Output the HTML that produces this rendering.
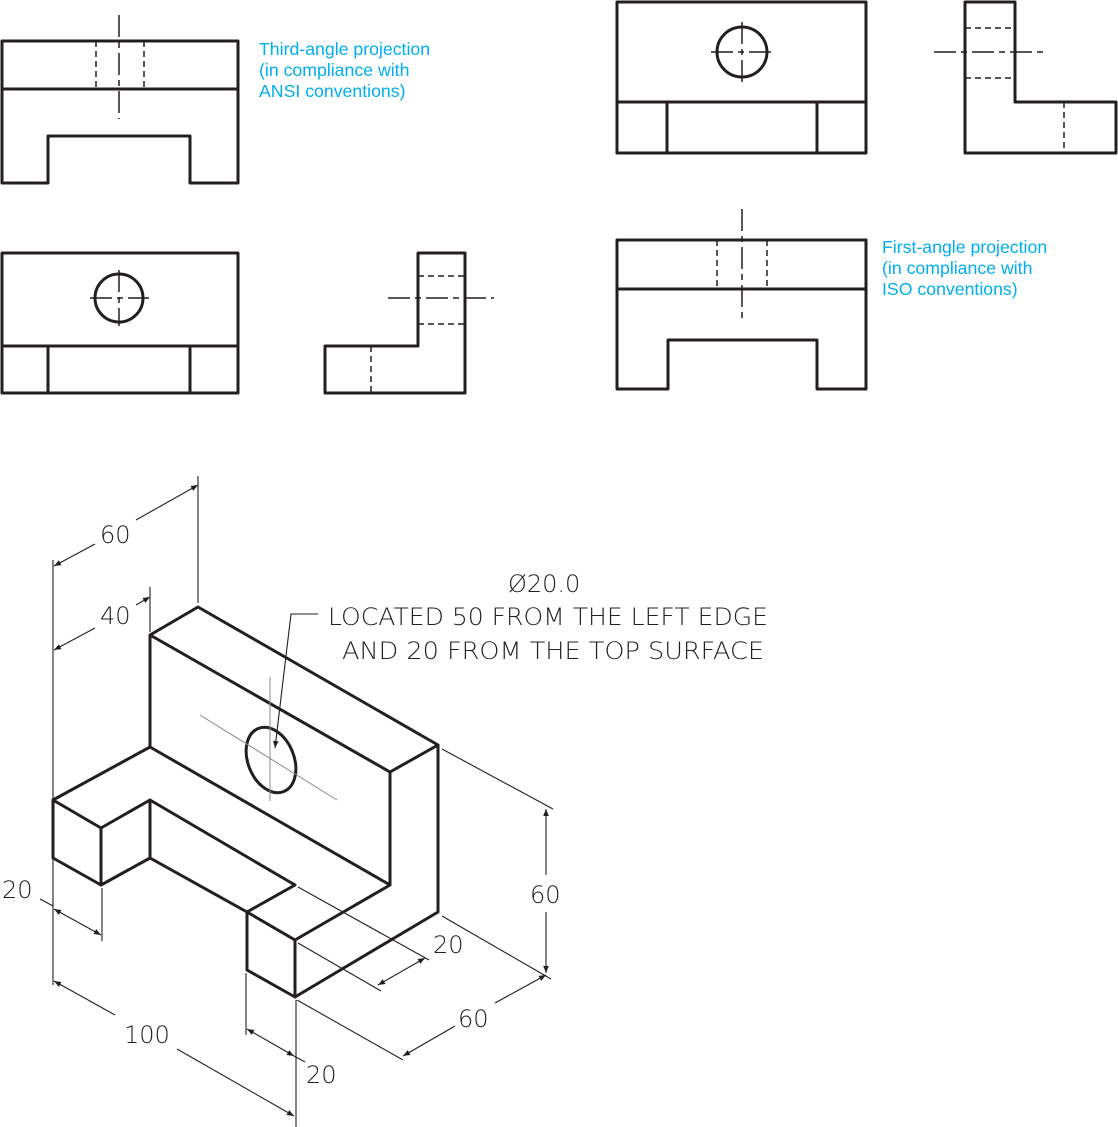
<!DOCTYPE html>
<html><head><meta charset="utf-8"><style>
html,body{margin:0;padding:0;background:#fff;}
svg{display:block;}
.o{fill:none;stroke:#231f20;stroke-width:3;stroke-linejoin:round;stroke-linecap:round;}
.h{fill:none;stroke:#231f20;stroke-width:1.5;stroke-dasharray:6,4;}
.c{fill:none;stroke:#231f20;stroke-width:1.3;}
.cd{fill:none;stroke:#231f20;stroke-width:1.5;stroke-dasharray:22,5,6,5;}
.d{fill:none;stroke:#231f20;stroke-width:1.1;}
.g{fill:none;stroke:#888;stroke-width:1;}
.b{font-family:"Liberation Sans",sans-serif;font-size:17.7px;fill:#00aeef;}
.t{font-family:"DejaVu Sans","Liberation Sans",sans-serif;font-size:24px;fill:#231f20;font-weight:200;}
</style></head><body>
<svg width="1118" height="1127" viewBox="0 0 1118 1127" xmlns="http://www.w3.org/2000/svg">
<defs><marker id="a" viewBox="0 0 10 10" refX="10" refY="5" markerWidth="9" markerHeight="7" orient="auto-start-reverse" markerUnits="userSpaceOnUse"><path d="M0,1 L10,5 L0,9 Z" fill="#231f20"/></marker></defs>

<path class="o" d="M2,41 H238 V183 H190 V136 H48 V183 H2 Z"/>
<line class="o" x1="2" y1="89" x2="238" y2="89"/>
<line class="h" x1="96" y1="41" x2="96" y2="89"/>
<line class="h" x1="144" y1="41" x2="144" y2="89"/>
<line class="cd" x1="119" y1="15" x2="119" y2="119" stroke-dasharray="28,6,6,6"/>
<text class="b" x="259" y="55">Third-angle projection</text>
<text class="b" x="259" y="76">(in compliance with</text>
<text class="b" x="259" y="97">ANSI conventions)</text>

<rect class="o" x="2" y="253" width="236" height="140"/>
<line class="o" x1="2" y1="346" x2="238" y2="346"/>
<line class="o" x1="48" y1="346" x2="48" y2="393"/>
<line class="o" x1="190" y1="346" x2="190" y2="393"/>
<circle class="o" cx="119" cy="298" r="24"/>
<line class="cd" x1="90" y1="298" x2="149" y2="298" stroke-dasharray="14,4,4,4"/>
<line class="cd" x1="119" y1="270" x2="119" y2="326" stroke-dasharray="14,4,4,4"/>

<path class="o" d="M418,253 H465 V393 H325 V346 H418 Z"/>
<line class="h" x1="418" y1="276" x2="465" y2="276"/>
<line class="h" x1="418" y1="324" x2="465" y2="324"/>
<line class="cd" x1="388" y1="298" x2="494" y2="298" stroke-dasharray="30,6,6,6"/>
<line class="h" x1="371" y1="346" x2="371" y2="393"/>

<rect class="o" x="617" y="2" width="249" height="151"/>
<line class="o" x1="617" y1="102" x2="866" y2="102"/>
<line class="o" x1="667" y1="102" x2="667" y2="153"/>
<line class="o" x1="817" y1="102" x2="817" y2="153"/>
<circle class="o" cx="742" cy="52" r="25"/>
<line class="cd" x1="711" y1="52" x2="773" y2="52" stroke-dasharray="14,4,4,4"/>
<line class="cd" x1="742" y1="22" x2="742" y2="84" stroke-dasharray="14,4,4,4"/>

<path class="o" d="M965,2 H1015 V102 H1116 V153 H965 Z"/>
<line class="h" x1="965" y1="28" x2="1015" y2="28"/>
<line class="h" x1="965" y1="78" x2="1015" y2="78"/>
<line class="cd" x1="934" y1="52" x2="1046" y2="52" stroke-dasharray="30,6,14,6"/>
<line class="h" x1="1064" y1="102" x2="1064" y2="153"/>

<path class="o" d="M617,240 H866 V389 H817 V340 H668 V389 H617 Z"/>
<line class="o" x1="617" y1="289" x2="866" y2="289"/>
<line class="h" x1="717" y1="240" x2="717" y2="289"/>
<line class="h" x1="767" y1="240" x2="767" y2="289"/>
<line class="cd" x1="742" y1="209" x2="742" y2="320" stroke-dasharray="30,6,6,6"/>
<text class="b" x="882" y="253">First-angle projection</text>
<text class="b" x="882" y="274">(in compliance with</text>
<text class="b" x="882" y="295">ISO conventions)</text>

<g class="o" stroke-width="2.6">
<path d="M150,747 V635 L198,607 L438,745 L390,772 L150,635"/>
<path d="M390,772 V885"/>
<path d="M438,745 V912 L295,997"/>
<path d="M150,747 L390,885 L295,940"/>
<path d="M150,747 L53,800 L101,828 L150,800 L295,885 L247,912 L295,940 V997 L247,970 V912"/>
<path d="M53,800 V858 L101,885 V828"/>
<path d="M101,885 L150,858 V800"/>
<path d="M150,858 L247,912"/>
</g>
<ellipse class="o" cx="271" cy="760" rx="23" ry="34" transform="rotate(-22 271 760)" stroke-width="2.6"/>
<line class="g" x1="200" y1="715" x2="337" y2="800"/>
<line class="g" x1="270" y1="677" x2="270" y2="801"/>
<polyline class="d" points="318,614 291,614 275,748" marker-end="url(#a)" stroke-width="1.3"/>
<text class="t" x="508" y="592">Ø20.0</text>
<text class="t" x="328" y="625" textLength="440" lengthAdjust="spacingAndGlyphs">LOCATED 50 FROM THE LEFT EDGE</text>
<text class="t" x="342" y="659" textLength="422" lengthAdjust="spacingAndGlyphs">AND 20 FROM THE TOP SURFACE</text>

<g class="d">
<line x1="53" y1="560" x2="53" y2="985"/>
<line x1="198" y1="603" x2="198" y2="476"/>
<line x1="150" y1="632" x2="150" y2="587"/>
<line x1="54" y1="566" x2="95" y2="544" marker-start="url(#a)"/>
<line x1="136" y1="520" x2="198" y2="485" marker-end="url(#a)"/>
<line x1="54" y1="650" x2="95" y2="628" marker-start="url(#a)"/>
<line x1="136" y1="605" x2="150" y2="597" marker-end="url(#a)"/>
<line x1="102" y1="888" x2="102" y2="941"/>
<line x1="40" y1="899" x2="53" y2="906"/>
<line x1="54" y1="909" x2="101" y2="935" marker-start="url(#a)" marker-end="url(#a)"/>
<line x1="54" y1="981" x2="115" y2="1015" marker-start="url(#a)"/>
<line x1="177" y1="1049" x2="294" y2="1116" marker-end="url(#a)"/>
<line x1="246" y1="973" x2="246" y2="1035"/>
<line x1="296" y1="1000" x2="296" y2="1127"/>
<line x1="247" y1="1029" x2="294" y2="1056" marker-start="url(#a)" marker-end="url(#a)"/>
<line x1="294" y1="1056" x2="305" y2="1062"/>
<line x1="298" y1="887" x2="429" y2="960"/>
<line x1="298" y1="943" x2="381" y2="991"/>
<line x1="378" y1="985" x2="425" y2="958" marker-start="url(#a)" marker-end="url(#a)"/>
<line x1="442" y1="916" x2="551" y2="979"/>
<line x1="297" y1="1000" x2="403" y2="1060"/>
<line x1="403" y1="1056" x2="455" y2="1026" marker-start="url(#a)"/>
<line x1="495" y1="1003" x2="546" y2="975" marker-end="url(#a)"/>
<line x1="442" y1="749" x2="553" y2="809"/>
<line x1="546" y1="809" x2="546" y2="875" marker-start="url(#a)"/>
<line x1="546" y1="912" x2="546" y2="973" marker-end="url(#a)"/>
</g>
<text class="t" x="100" y="543">60</text>
<text class="t" x="100" y="624">40</text>
<text class="t" x="2" y="898">20</text>
<text class="t" x="124" y="1043">100</text>
<text class="t" x="306" y="1083">20</text>
<text class="t" x="433" y="953">20</text>
<text class="t" x="458" y="1027">60</text>
<text class="t" x="530" y="903">60</text>
</svg>
</body></html>
